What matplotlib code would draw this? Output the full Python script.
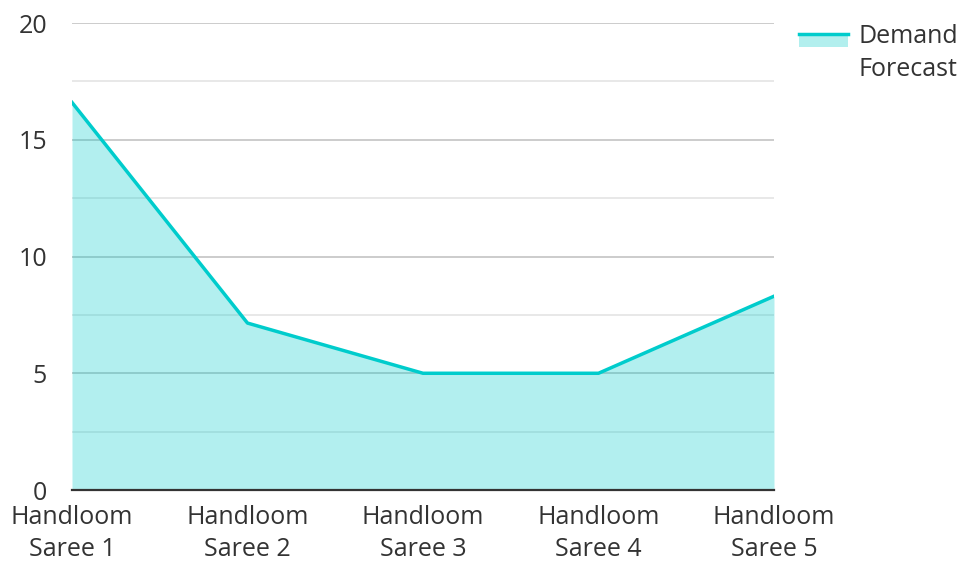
import matplotlib
matplotlib.use("Agg")
import matplotlib.pyplot as plt
from matplotlib.patches import Rectangle
from matplotlib.lines import Line2D
import numpy as np

# chart data
categories = ["Handloom\nSaree 1", "Handloom\nSaree 2", "Handloom\nSaree 3",
              "Handloom\nSaree 4", "Handloom\nSaree 5"]
demand = [16.6, 7.15, 5.0, 5.0, 8.3]
series_name = "Demand\nForecast"

line_color = "#00cccc"
fill_color = "#b2efee"

plt.rcParams['font.family'] = ['Open Sans', 'DejaVu Sans']

fig = plt.figure(figsize=(9.61, 5.62), dpi=100)
ax = fig.add_axes([0.0749, 0.1281, 0.7305, 0.8309])

x = np.arange(len(categories))
ax.fill_between(x, 0, demand, color=line_color, alpha=0.3, linewidth=0, zorder=2)
ax.plot(x, demand, color=line_color, linewidth=2.5, zorder=3)

ax.set_xlim(0, len(categories) - 1)
ax.set_ylim(0, 20)
ax.set_yticks([0, 5, 10, 15, 20])
ax.set_yticks([2.5, 7.5, 12.5, 17.5], minor=True)
ax.grid(axis='y', which='major', color='#c4c4c4', linewidth=1.2, zorder=1)
ax.grid(axis='y', which='minor', color='#e4e4e4', linewidth=1.2, zorder=1)
ax.set_axisbelow(True)
ax.set_xticks(x)
ax.set_xticklabels(categories, linespacing=1.35)

for s in ['top', 'right', 'left']:
    ax.spines[s].set_visible(False)
ax.spines['bottom'].set_color('#333333')
ax.spines['bottom'].set_linewidth(1.6)
ax.spines['bottom'].set_zorder(4)

ax.tick_params(axis='both', which='both', length=0, labelsize=18, colors='#333333')
ax.tick_params(axis='y', pad=18)
ax.tick_params(axis='x', pad=11)

# legend drawn by hand: filled swatch with a line on top
fig.add_artist(Rectangle((0.8314, 0.9164), 0.051, 0.0249, transform=fig.transFigure,
                         facecolor=fill_color, edgecolor='none'))
fig.add_artist(Line2D([0.8314, 0.8824], [0.9395, 0.9395], transform=fig.transFigure,
                      color=line_color, linewidth=2.5))
fig.text(0.893, 0.957, series_name, ha='left', va='top', fontsize=18,
         color='#333333', linespacing=1.4)

fig.savefig("out.png", dpi=100)
